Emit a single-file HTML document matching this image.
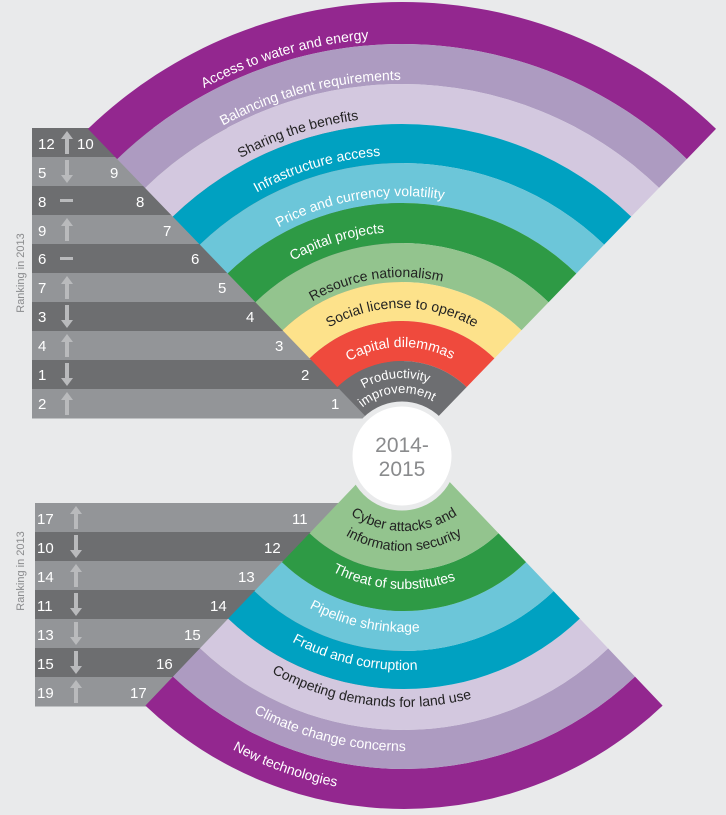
<!DOCTYPE html>
<html><head><meta charset="utf-8"><style>
html,body{margin:0;padding:0;background:#e9eaeb;}
svg{display:block;font-family:"Liberation Sans",sans-serif;}
</style></head><body>
<svg id="s" width="726" height="815" viewBox="0 0 726 815" xmlns="http://www.w3.org/2000/svg">
<rect width="726" height="815" fill="#e9eaeb"/>
<defs>
<path id="p1"/><path id="p2"/><path id="p3"/><path id="p4"/><path id="p5"/><path id="p6"/><path id="p7"/><path id="p8"/><path id="p9"/><path id="p10a"/><path id="p10b"/>
<path id="q1a"/><path id="q1b"/><path id="q2"/><path id="q3"/><path id="q4"/><path id="q5"/><path id="q6"/><path id="q7"/>
</defs>
<g id="rows"></g>
<g id="fan"></g>
<circle cx="402" cy="456" r="52" fill="#fff" stroke="#e9eaeb" stroke-width="5"/>
<text x="402" y="452" text-anchor="middle" font-size="21" fill="#8a8b8d">2014-</text>
<text x="402" y="476" text-anchor="middle" font-size="21" fill="#8a8b8d">2015</text>
<text transform="translate(24,273) rotate(-90)" text-anchor="middle" font-size="11" fill="#8a8b8d">Ranking in 2013</text>
<text transform="translate(24,571) rotate(-90)" text-anchor="middle" font-size="11" fill="#8a8b8d">Ranking in 2013</text>
<g font-size="14" text-anchor="middle">
<text fill="#fff"><textPath href="#p1" startOffset="50%">Access to water and energy</textPath></text>
<text fill="#fff"><textPath href="#p2" startOffset="50%">Balancing talent requirements</textPath></text>
<text fill="#222"><textPath href="#p3" startOffset="50%">Sharing the benefits</textPath></text>
<text fill="#fff"><textPath href="#p4" startOffset="50%">Infrastructure access</textPath></text>
<text fill="#fff"><textPath href="#p5" startOffset="50%">Price and currency volatility</textPath></text>
<text fill="#fff"><textPath href="#p6" startOffset="50%">Capital projects</textPath></text>
<text fill="#222"><textPath href="#p7" startOffset="50%">Resource nationalism</textPath></text>
<text fill="#222"><textPath href="#p8" startOffset="50%">Social license to operate</textPath></text>
<text fill="#fff"><textPath href="#p9" startOffset="50%">Capital dilemmas</textPath></text>
<text fill="#fff" font-size="13"><textPath href="#p10a" startOffset="50%">Productivity</textPath></text>
<text fill="#fff" font-size="13"><textPath href="#p10b" startOffset="50%">improvement</textPath></text>
<text fill="#222"><textPath href="#q1a" startOffset="50%">Cyber attacks and</textPath></text>
<text fill="#222"><textPath href="#q1b" startOffset="50%">information security</textPath></text>
<text fill="#fff"><textPath href="#q2" startOffset="50%">Threat of substitutes</textPath></text>
<text fill="#fff"><textPath href="#q3" startOffset="50%">Pipeline shrinkage</textPath></text>
<text fill="#fff"><textPath href="#q4" startOffset="50%">Fraud and corruption</textPath></text>
<text fill="#222"><textPath href="#q5" startOffset="50%">Competing demands for land use</textPath></text>
<text fill="#fff"><textPath href="#q6" startOffset="50%">Climate change concerns</textPath></text>
<text fill="#fff"><textPath href="#q7" startOffset="50%">New technologies</textPath></text>
</g>
<g font-size="15" fill="#fff" id="nums">
<text x="38" y="149">12</text><text x="77" y="149">10</text>
<text x="38" y="178">5</text><text x="110" y="178">9</text>
<text x="38" y="207">8</text><text x="136" y="207">8</text>
<text x="38" y="236">9</text><text x="163" y="236">7</text>
<text x="38" y="264">6</text><text x="191" y="264">6</text>
<text x="38" y="293">7</text><text x="218" y="293">5</text>
<text x="38" y="322">3</text><text x="246" y="322">4</text>
<text x="38" y="351">4</text><text x="275" y="351">3</text>
<text x="38" y="380">1</text><text x="301" y="380">2</text>
<text x="38" y="409">2</text><text x="331" y="409">1</text>
<text x="37" y="524">17</text><text x="292" y="524">11</text>
<text x="37" y="553">10</text><text x="264" y="553">12</text>
<text x="37" y="582">14</text><text x="238" y="582">13</text>
<text x="37" y="611">11</text><text x="210" y="611">14</text>
<text x="37" y="640">13</text><text x="184" y="640">15</text>
<text x="37" y="669">15</text><text x="156" y="669">16</text>
<text x="37" y="698">19</text><text x="130" y="698">17</text>
</g>
</svg>
<script>
(function(){
var NS="http://www.w3.org/2000/svg";
function el(t,a,p){var e=document.createElementNS(NS,t);for(var k in a)e.setAttribute(k,a[k]);p.appendChild(e);return e;}
var rows=document.getElementById('rows'),fan=document.getElementById('fan');
var D="#6d6e70",L="#939598",AC="#b9babc";
var top=['u','d','-','u','-','u','d','u','d','u'];
for(var i=0;i<10;i++){var y=128+i*29;el('rect',{x:32,y:y,width:372,height:29.5,fill:i%2?L:D},rows);arrow(67,y,top[i]);}
var bot=['u','d','u','d','d','d','u'];
for(var i=0;i<7;i++){var y=503+i*29;el('rect',{x:35,y:y,width:370,height:29.5,fill:i%2?D:L},rows);arrow(76,y,bot[i]);}
function arrow(x,y,t){
 if(t=='-'){el('rect',{x:x-7,y:y+13,width:13,height:3,fill:AC},rows);return;}
 if(t=='u'){el('path',{d:'M'+(x-6)+' '+(y+11)+'L'+x+' '+(y+3)+'L'+(x+6)+' '+(y+11)+'Z',fill:AC},rows);el('rect',{x:x-2,y:y+10,width:4,height:16,fill:AC},rows);}
 else{el('path',{d:'M'+(x-6)+' '+(y+18)+'L'+x+' '+(y+26)+'L'+(x+6)+' '+(y+18)+'Z',fill:AC},rows);el('rect',{x:x-2,y:y+3,width:4,height:16,fill:AC},rows);}
}
var R=Math.PI/180;
function pt(cx,cy,r,a,dir){return [cx+r*Math.sin(a*R),cy-dir*r*Math.cos(a*R)];}
function sector(cx,cy,r1,r2,A,dir,col){
 var a=pt(cx,cy,r2,-A,dir),b=pt(cx,cy,r2,A,dir),c=pt(cx,cy,r1,A,dir),d=pt(cx,cy,r1,-A,dir);
 var s1=dir==1?1:0,s2=dir==1?0:1;
 el('path',{d:'M'+a+'A'+r2+' '+r2+' 0 0 '+s1+' '+b+'L'+c+'A'+r1+' '+r1+' 0 0 '+s2+' '+d+'Z',fill:col},fan);
}
var cols=["#6d6e71","#ef4a3d","#fde28b","#93c48e","#2e9a45","#6cc6d9","#00a1c1","#d3c8df","#ad9bc1","#93278f"];
var tr=[40,93,133,172,211,251,291,330,370,410,452];
for(var i=9;i>=0;i--)sector(402,454,tr[i],tr[i+1],44,1,cols[i]);
var bcols=["#93c48e","#2e9a45","#6cc6d9","#00a1c1","#d3c8df","#ad9bc1","#93278f"];
var br=[40,137,177,217,255,296,335,375];
for(var i=6;i>=0;i--)sector(404,434,br[i],br[i+1],43.6,-1,bcols[i]);
function tp(id,cx,cy,r,al,dir){
 var a=pt(cx,cy,r,al-45,dir),b=pt(cx,cy,r,al+45,dir);
 document.getElementById(id).setAttribute('d','M'+a+'A'+r+' '+r+' 0 0 '+(dir==1?1:0)+' '+b);
}
tp('p1',402,454,416,-16.5,1);tp('p2',402,454,374,-14.4,1);tp('p3',402,454,337,-18,1);
tp('p4',402,454,299,-16.6,1);tp('p5',402,454,258,-9.6,1);tp('p6',402,454,222,-17,1);
tp('p7',402,454,177,-8.6,1);tp('p8',402,454,146,0,1);tp('p9',402,454,107,-1,1);
tp('p10a',402,454,76,-5,1);tp('p10b',402,454,61,-5,1);
tp('q1a',404,434,97,0,-1);tp('q1b',404,434,117,0,-1);tp('q2',404,434,155,-4,-1);
tp('q3',404,434,198,-12,-1);tp('q4',404,434,236,-12.5,-1);tp('q5',404,434,273,-7.3,-1);
tp('q6',404,434,317,-14,-1);tp('q7',404,434,359,-19.7,-1);
})();
</script>
</body></html>
